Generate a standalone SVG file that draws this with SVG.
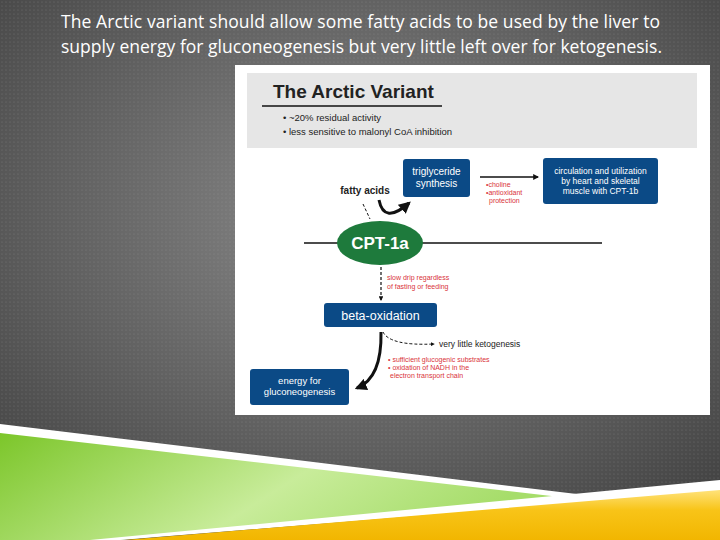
<svg xmlns="http://www.w3.org/2000/svg" width="720" height="540" viewBox="0 0 720 540">
<defs>
<radialGradient id="bg" cx="0.5" cy="0.4" r="0.8"><stop offset="0" stop-color="#8a8a8a"/><stop offset="1" stop-color="#3a3a3a"/></radialGradient>
<pattern id="dots" width="4" height="4" patternUnits="userSpaceOnUse"><rect width="4" height="4" fill="none"/><circle cx="2" cy="2" r="0.6" fill="#aaa" opacity="0.35"/></pattern>
<linearGradient id="gr" x1="0" y1="0" x2="1" y2="0.3"><stop offset="0" stop-color="#7cc62a"/><stop offset="0.6" stop-color="#c8ec9a"/><stop offset="1" stop-color="#a6dd6a"/></linearGradient>
<linearGradient id="yl" x1="0" y1="0" x2="0" y2="1"><stop offset="0" stop-color="#ffe27a"/><stop offset="0.4" stop-color="#f8c418"/><stop offset="1" stop-color="#f2b600"/></linearGradient>
<marker id="ahs" viewBox="0 0 10 10" refX="8" refY="5" markerWidth="4" markerHeight="4" orient="auto"><path d="M0,0 L10,5 L0,10 z" fill="#111"/></marker>
<style>
.box{fill:#0b4a86;rx:3}
.bt{fill:#fff;font-family:"Liberation Sans",Arial,sans-serif;text-anchor:middle}
.red{fill:#d9333b;font-family:"Liberation Sans",Arial,sans-serif;font-size:7px}
.blk{fill:#222;font-family:"Liberation Sans",Arial,sans-serif}
.ttl{fill:#fff;font-family:"Open Sans","Liberation Sans",sans-serif;font-size:17.5px}
</style>
</defs>
<rect width="720" height="540" fill="url(#bg)"/>
<rect width="720" height="540" fill="url(#dots)"/>
<polygon points="0,424 585,495 560,500 0,436" fill="#fff"/>
<polygon points="0,433 560,497 120,540 0,540" fill="url(#gr)"/>
<polygon points="90,540 720,480 720,492 120,540" fill="#fff"/>
<polygon points="125,540 720,490 720,540" fill="url(#yl)"/>
<text x="61" y="28" class="ttl" textLength="599">The Arctic variant should allow some fatty acids to be used by the liver to</text>
<text x="61" y="53" class="ttl" textLength="601">supply energy for gluconeogenesis but very little left over for ketogenesis.</text>
<rect x="235" y="65" width="475" height="350" fill="#fff"/>
<rect x="247" y="73" width="450" height="75" fill="#e6e6e6"/>
<text x="273" y="98" class="blk" font-size="19" font-weight="bold">The Arctic Variant</text>
<line x1="262" y1="106" x2="442" y2="106" stroke="#111" stroke-width="1.5"/>
<text x="283" y="121" class="blk" font-size="9.5">• ~20% residual activity</text>
<text x="283" y="135" class="blk" font-size="9.5">• less sensitive to malonyl CoA inhibition</text>
<g id="connectors" fill="none" stroke="#111">
<line x1="304" y1="243" x2="602" y2="243" stroke-width="1.5"/>
<line x1="480" y1="177" x2="538" y2="177" stroke-width="1.5" marker-end="url(#ahs)"/>
<line x1="363" y1="204" x2="370" y2="219" stroke-width="1" stroke-dasharray="3,2"/>
<path d="M379,200 Q384,225 409,203" stroke-width="3" marker-end="url(#ahs)"/>
<line x1="381" y1="267" x2="381" y2="300" stroke-width="1.2" stroke-dasharray="3,2" marker-end="url(#ahs)"/>
<path d="M383,332 Q390,346 434,344" stroke-width="1" stroke-dasharray="3,2" marker-end="url(#ahs)"/>
<path d="M381,332 Q382,378 357,388" stroke-width="3" marker-end="url(#ahs)"/>
</g>
<g id="fatty"><text x="365" y="194" class="blk" font-size="10" font-weight="bold" text-anchor="middle">fatty acids</text></g>
<g id="tg"><rect x="403" y="159" width="67" height="38" class="box"/><text x="436.5" y="175" class="bt" font-size="10">triglyceride</text><text x="436.5" y="187" class="bt" font-size="10">synthesis</text></g>
<g id="circ"><rect x="543" y="158" width="115" height="46" class="box"/><text x="600.5" y="174" class="bt" font-size="8.5">circulation and utilization</text><text x="600.5" y="184" class="bt" font-size="8.5">by heart and skeletal</text><text x="600.5" y="194" class="bt" font-size="8.5">muscle with CPT-1b</text></g>
<g id="redlbl1"><text x="486" y="187" class="red">•choline</text><text x="486" y="195" class="red">•antioxidant</text><text x="489" y="203" class="red">protection</text></g>
<g id="cpt"><ellipse cx="380" cy="243" rx="43" ry="22" fill="#1e7a3c"/><text x="380" y="249" class="bt" font-size="17" font-weight="bold">CPT-1a</text></g>
<g id="redlbl2"><text x="387" y="280" class="red">slow drip regardless</text><text x="387" y="289" class="red">of fasting or feeding</text></g>
<g id="beta"><rect x="324" y="303" width="113" height="24" class="box"/><text x="380.5" y="320" class="bt" font-size="12.5">beta-oxidation</text></g>
<g id="keto"><text x="439" y="347" class="blk" font-size="8.5">very little ketogenesis</text></g>
<g id="redlbl3"><text x="388" y="362" class="red">• sufficient glucogenic substrates</text><text x="388" y="370" class="red">• oxidation of NADH in the</text><text x="390" y="378" class="red">electron transport chain</text></g>
<g id="energy"><rect x="250" y="369" width="99" height="36" class="box"/><text x="299.5" y="384" class="bt" font-size="9.5">energy for</text><text x="299.5" y="395" class="bt" font-size="9.5">gluconeogenesis</text></g>
</svg>
